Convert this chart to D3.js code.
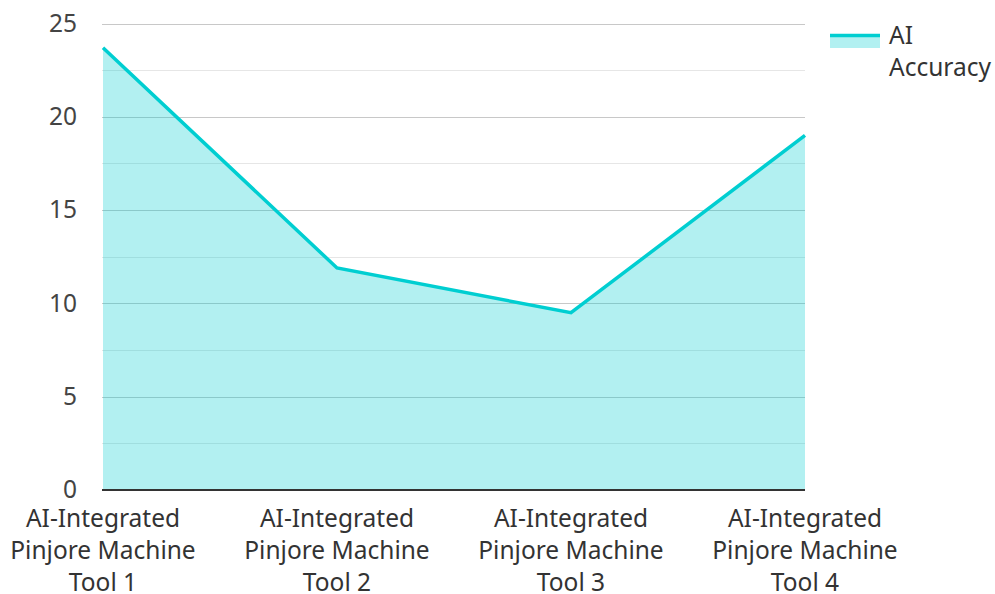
<!DOCTYPE html>
<html>
<head>
<meta charset="utf-8">
<script src="https://cdn.jsdelivr.net/npm/d3@7"></script>
<style>
  html, body { margin: 0; padding: 0; background: #fff; }
  svg { display: block; font-family: "Noto Sans", sans-serif; }
</style>
</head>
<body>
<svg id="chart" width="995" height="594"></svg>
<script>
// Categories and series values
const categories = [
  ["AI-Integrated", "Pinjore Machine", "Tool 1"],
  ["AI-Integrated", "Pinjore Machine", "Tool 2"],
  ["AI-Integrated", "Pinjore Machine", "Tool 3"],
  ["AI-Integrated", "Pinjore Machine", "Tool 4"]
];
const accuracy = [23.7, 11.9, 9.5, 19.0];
const yTicks = [0, 5, 10, 15, 20, 25];
const yMinorTicks = [2.5, 7.5, 12.5, 17.5, 22.5];
const seriesName = ["AI", "Accuracy"];

const svg = d3.select("#chart");
const plotLeft = 103, plotRight = 805, plotTop = 23.5, plotBottom = 490;
const fontSize = 24.5;
const lineColor = "#00CED1";

const x = d3.scalePoint().domain(d3.range(categories.length)).range([plotLeft, plotRight]).padding(0);
const y = d3.scaleLinear().domain([0, 25]).range([plotBottom, plotTop]);

// Gridlines
svg.append("g").selectAll("line").data(yMinorTicks).join("line")
  .attr("x1", plotLeft - 1).attr("x2", plotRight)
  .attr("y1", d => Math.round(y(d)) + 0.5).attr("y2", d => Math.round(y(d)) + 0.5)
  .attr("stroke", "#e6e6e6").attr("stroke-width", 1);
svg.append("g").selectAll("line").data(yTicks.filter(d => d > 0)).join("line")
  .attr("x1", plotLeft - 1).attr("x2", plotRight)
  .attr("y1", d => Math.round(y(d)) + 0.5).attr("y2", d => Math.round(y(d)) + 0.5)
  .attr("stroke", "#c8c8c8").attr("stroke-width", 1);

// Area fill and line
const area = d3.area().x((d, i) => x(i)).y0(y(0)).y1(d => y(d));
const line = d3.line().x((d, i) => x(i)).y(d => y(d));
svg.append("path").datum(accuracy).attr("d", area)
  .attr("fill", lineColor).attr("fill-opacity", 0.3);
svg.append("path").datum(accuracy).attr("d", line)
  .attr("fill", "none").attr("stroke", lineColor).attr("stroke-width", 3.5)
  .attr("stroke-linejoin", "miter");

// Baseline
svg.append("line").attr("x1", plotLeft - 1).attr("x2", plotRight)
  .attr("y1", y(0)).attr("y2", y(0))
  .attr("stroke", "#333").attr("stroke-width", 2);

// Y axis labels
const yAxis = d3.axisLeft(y).tickValues(yTicks).tickSize(0).tickPadding(26);
const yg = svg.append("g").attr("transform", `translate(${plotLeft},0)`).call(yAxis);
yg.select(".domain").remove();
yg.selectAll("text").attr("font-size", fontSize).attr("fill", "#444")
  .attr("font-family", "'Noto Sans', sans-serif");

// X axis labels (three lines each)
const xl = svg.append("g").selectAll("text").data(categories).join("text")
  .attr("text-anchor", "middle").attr("font-size", fontSize).attr("fill", "#333")
  .attr("x", (d, i) => x(i));
xl.selectAll("tspan").data(d => d).join("tspan")
  .attr("x", function() { return d3.select(this.parentNode).attr("x"); })
  .attr("y", (d, j) => 527 + j * 32)
  .text(d => d);

// Legend
const lg = svg.append("g");
lg.append("rect").attr("x", 830).attr("y", 35).attr("width", 50).attr("height", 13)
  .attr("fill", lineColor).attr("fill-opacity", 0.3);
lg.append("line").attr("x1", 830).attr("x2", 880).attr("y1", 35.5).attr("y2", 35.5)
  .attr("stroke", lineColor).attr("stroke-width", 3.5);
lg.append("text").attr("font-size", fontSize).attr("fill", "#333")
  .selectAll("tspan").data(seriesName).join("tspan")
  .attr("x", 889).attr("y", (d, j) => 44 + j * 32).text(d => d);
</script>
</body>
</html>
